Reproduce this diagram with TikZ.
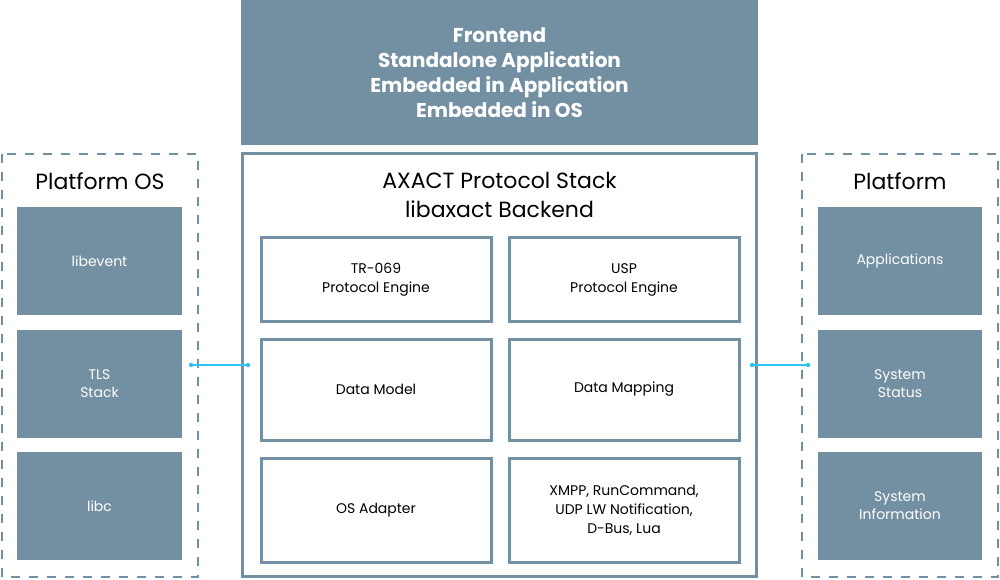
\documentclass[tikz,border=0pt]{standalone}
\usepackage{fontspec}
\setmainfont{Poppins}
\definecolor{slate}{HTML}{7390A3}
\definecolor{cyanl}{HTML}{29C4F0}
\begin{document}
\begin{tikzpicture}[x=1pt,y=-1pt,
  fillbox/.style={fill=slate,draw=none,text=white,font=\fontsize{14}{18}\selectfont,align=center,inner sep=0},
  linebox/.style={draw=slate,line width=3pt,fill=white,font=\fontsize{14}{19}\selectfont,align=center,inner sep=0},
  dashbox/.style={draw=slate,line width=2pt,dash pattern=on 9pt off 9pt},
  title/.style={font=\fontsize{22}{29}\selectfont\mdseries,align=center},
  conn/.style={draw=cyanl,line width=1.2pt}]
\useasboundingbox (0,0) rectangle (1000,580);
\node[fillbox,minimum width=517,minimum height=145,font=\fontsize{20}{25}\selectfont\bfseries] (fe) at (499.5,72.5) {Frontend\\Standalone Application\\Embedded in Application\\Embedded in OS};
\draw[slate,line width=3pt] (242.5,153.5) rectangle (756.5,576.5);
\coordinate (mainL) at (242.5,365);
\coordinate (mainR) at (756.5,365);
\node[title] (t) at (499.5,195) {AXACT Protocol Stack\\libaxact Backend};
\node[linebox,minimum width=230,minimum height=84] (a1) at (376,279.5) {TR-069\\Protocol Engine};
\node[linebox,minimum width=230,minimum height=84] (a2) at (624,279.5) {USP\\Protocol Engine};
\node[linebox,minimum width=230,minimum height=101] (b1) at (376,389.5) {Data Model};
\node[linebox,minimum width=230,minimum height=101] (b2) at (624,389.5) {Data Mapping};
\node[linebox,minimum width=230,minimum height=104] (c1) at (376,510) {OS Adapter};
\node[linebox,minimum width=230,minimum height=104] (c2) at (624,510) {XMPP, RunCommand,\\UDP LW Notification,\\D-Bus, Lua};
% left
\draw[dashbox] (2,154) rectangle (198,577);
\node[title] (pl) at (100,181) {Platform OS};
\node[fillbox,minimum width=165,minimum height=108] (l1) at (99.5,261) {libevent};
\node[fillbox,minimum width=165,minimum height=108] (l2) at (99.5,384) {TLS\\Stack};
\node[fillbox,minimum width=165,minimum height=108] (l3) at (99.5,506) {libc};
% right
\draw[dashbox] (802,154) rectangle (998,577);
\node[title] (pr) at (900,181) {Platform};
\node[fillbox,minimum width=164,minimum height=108] (r1) at (900,261) {Applications};
\node[fillbox,minimum width=164,minimum height=108] (r2) at (900,384) {System\\Status};
\node[fillbox,minimum width=164,minimum height=108] (r3) at (900,506) {System\\Information};
\coordinate (dl) at (191,365);
\coordinate (dr) at (808,365);
\draw[conn] (dl) -- (mainL|-dl) ++(5,0);
\draw[conn] (dl) -- (248,365);
\draw[conn] (752,365) -- (dr);
\foreach \p in {(191,365),(248,365),(752,365),(808,365)} \fill[cyanl] \p circle (2.2);
\end{tikzpicture}
\end{document}
